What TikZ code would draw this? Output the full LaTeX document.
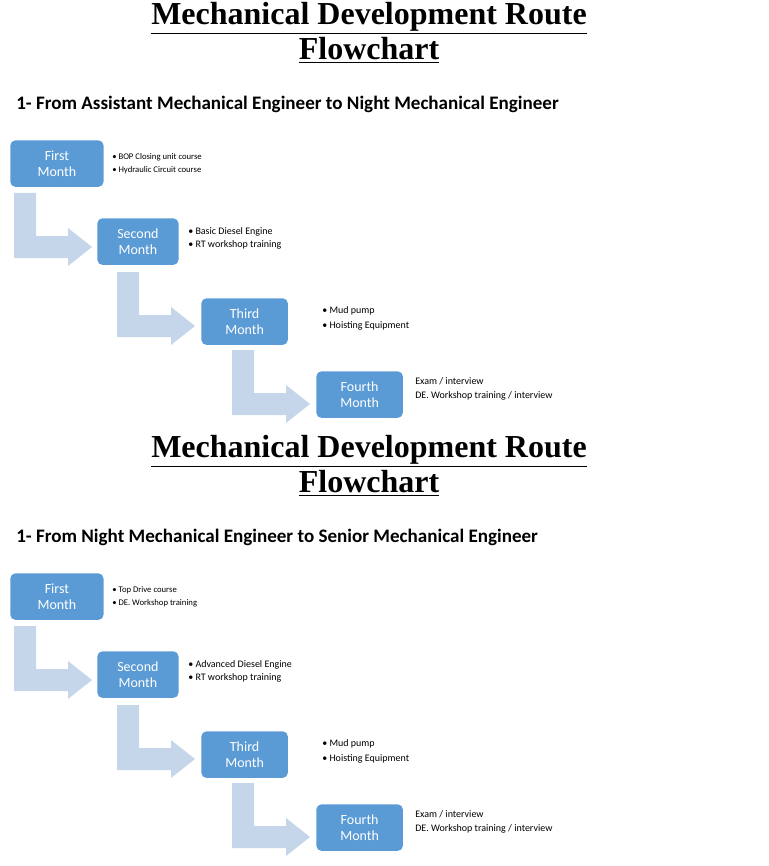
\documentclass[tikz,border=0pt]{standalone}
\usepackage{fontspec}
\setmainfont{Liberation Serif}
\newfontfamily\calfont{Carlito}
\definecolor{boxc}{HTML}{5B9BD5}
\definecolor{arrc}{HTML}{C5D5EA}
\begin{document}
\begin{tikzpicture}[x=0.75pt,y=-0.75pt,
  month/.style={fill=boxc,rounded corners=4pt,text=white,font=\calfont\fontsize{10.5}{12}\selectfont,align=center,anchor=north west,minimum width=#1,minimum height=35pt,inner sep=0pt},
  month/.default=65pt,
  bul/.style={anchor=west,font=\calfont\fontsize{6.5}{7}\selectfont,inner sep=0pt},
  bulb/.style={anchor=west,font=\calfont\fontsize{7.5}{8}\selectfont,inner sep=0pt},
  ttl/.style={font=\bfseries\fontsize{24}{26}\selectfont},
  sub/.style={anchor=west,font=\calfont\bfseries\fontsize{14.3}{16}\selectfont,inner sep=0pt}]
\useasboundingbox (0,0) rectangle (768,866);
\newcommand\bentarr[2]{\fill[arrc] (#1,#2) -- ++(22,0) -- ++(0,43) -- ++(32,0) -- ++(0,-8) -- ++(24,19) -- ++(-24,19) -- ++(0,-8) -- ++(-54,0) -- cycle;}
\foreach \o/\s/\i/\ta/\tb/\tc/\td/\te/\tf in {0/a/{From Assistant Mechanical Engineer to Night Mechanical Engineer}/{BOP Closing unit course}/{Hydraulic Circuit course}/{Basic Diesel Engine}/{RT workshop training}/{Mud pump}/{Hoisting Equipment},
 433/b/{From Night Mechanical Engineer to Senior Mechanical Engineer}/{Top Drive course}/{DE. Workshop training}/{Advanced Diesel Engine}/{RT workshop training}/{Mud pump}/{Hoisting Equipment}}{
\begin{scope}[yshift=-\o*0.75pt]
\node[ttl] (t1\s) at (369,18) {\underline{Mechanical Development Route}};
\node[ttl] (t2\s) at (369,50) {\underline{Flowchart}};
\node[sub] (st\s) at (16,104) {1- \i};
\bentarr{14}{193}
\bentarr{117}{272}
\bentarr{232}{350}
\node[month=70pt] (m1\s) at (10,140) {First\\Month};
\node[month=61pt] (m2\s) at (97,218) {Second\\Month};
\node[month] (m3\s) at (201,298) {Third\\Month};
\node[month] (m4\s) at (316,371) {Fourth\\Month};
\node[bul] (a1\s) at (112,157) {\textbullet\ \ta};
\node[bul] (a2\s) at (112,170) {\textbullet\ \tb};
\node[bulb] (b1\s) at (188,232) {\textbullet\ \tc};
\node[bulb] (b2\s) at (188,245) {\textbullet\ \td};
\node[bulb] (c1\s) at (322,311) {\textbullet\ \te};
\node[bulb] (c2\s) at (322,326) {\textbullet\ \tf};
\node[bulb] (d1\s) at (415,381) {Exam / interview};
\node[bulb] (d2\s) at (415,396) {DE. Workshop training / interview};
\end{scope}}
\end{tikzpicture}
\end{document}
